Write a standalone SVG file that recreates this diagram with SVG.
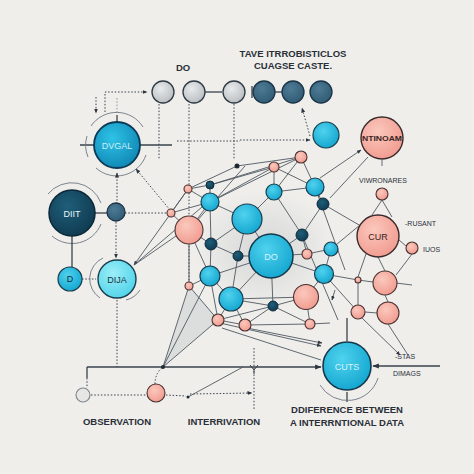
<svg xmlns="http://www.w3.org/2000/svg" width="474" height="474" viewBox="0 0 474 474">
<defs>
<radialGradient id="gCyan" cx="40%" cy="35%" r="70%"><stop offset="0" stop-color="#4fd2ee"/><stop offset="1" stop-color="#12a5cf"/></radialGradient>
<radialGradient id="gCyanBig" cx="40%" cy="35%" r="70%"><stop offset="0" stop-color="#2ec3e6"/><stop offset="1" stop-color="#0f86b4"/></radialGradient>
<radialGradient id="gLight" cx="40%" cy="35%" r="70%"><stop offset="0" stop-color="#9beef7"/><stop offset="1" stop-color="#4fd3ea"/></radialGradient>
<radialGradient id="gPink" cx="40%" cy="35%" r="70%"><stop offset="0" stop-color="#fbc8bd"/><stop offset="1" stop-color="#f19a8e"/></radialGradient>
<radialGradient id="gNavy" cx="40%" cy="35%" r="70%"><stop offset="0" stop-color="#1f5e79"/><stop offset="1" stop-color="#0f3a50"/></radialGradient>
<radialGradient id="gGray" cx="40%" cy="35%" r="70%"><stop offset="0" stop-color="#e8eaeb"/><stop offset="1" stop-color="#b8bdc1"/></radialGradient>
<radialGradient id="gSlate" cx="40%" cy="35%" r="70%"><stop offset="0" stop-color="#4d7a94"/><stop offset="1" stop-color="#2f5a74"/></radialGradient>
<radialGradient id="gShade" cx="50%" cy="50%" r="50%"><stop offset="0" stop-color="#c9ccce" stop-opacity="0.7"/><stop offset="1" stop-color="#c9ccce" stop-opacity="0"/></radialGradient>
<marker id="ah" viewBox="0 0 10 10" refX="9" refY="5" markerWidth="5" markerHeight="5" orient="auto-start-reverse"><path d="M0,1 L10,5 L0,9 z" fill="#2d3540"/></marker>
<style>
.e{stroke:#4f5861;stroke-width:0.9;fill:none}
.d{stroke:#3a424c;stroke-width:1;fill:none;stroke-dasharray:1.5 1.8}
.s{stroke:#3a424c;stroke-width:1.3;fill:none}
.ring{stroke:#6d7780;stroke-width:0.9;fill:none}
.cy{fill:url(#gCyan);stroke:#1b3c4c;stroke-width:1.2}
.pk{fill:url(#gPink);stroke:#4a3232;stroke-width:1.1}
.nv{fill:url(#gNavy);stroke:#0f2c3a;stroke-width:1}
.gr{fill:url(#gGray);stroke:#2f3a44;stroke-width:1.3}
.sl{fill:url(#gSlate);stroke:#1c3446;stroke-width:1.3}
text{font-family:"Liberation Sans",Arial,sans-serif}
.lab{font-size:9.5px;font-weight:bold;fill:#2a2f38;text-anchor:middle}
.sm{font-size:7px;fill:#2a2f38}
.nl{font-size:9px;text-anchor:middle}
</style>
</defs>
<rect width="474" height="474" fill="#efeeeb"/>

<!-- soft shading -->
<ellipse cx="265" cy="250" rx="70" ry="60" fill="url(#gShade)"/>
<polygon points="163,367 189,286 218,320" fill="#d7d9da" opacity="0.8"/>

<g id="connectors">
<!-- top dotted -->
<path class="d" d="M105,112 V92 H147" marker-end="url(#ah)"/>
<path class="d" d="M96,97 V113" marker-end="url(#ah)"/>
<line class="d" x1="117" y1="98" x2="117" y2="113" stroke-opacity="0.5"/>
<line class="d" x1="159" y1="104" x2="159" y2="160"/>
<line class="d" x1="189" y1="104" x2="189" y2="185"/>
<line class="d" x1="189" y1="193" x2="189" y2="282"/>
<line class="d" x1="234" y1="104" x2="234" y2="160"/>
<line class="s" x1="205" y1="92" x2="222" y2="92"/>
<line class="s" x1="275" y1="92" x2="282" y2="92"/>
<line class="s" x1="252" y1="86" x2="252" y2="98" stroke-width="0.8"/>
<line class="d" x1="177" y1="141" x2="240" y2="141"/>
<line class="d" x1="240" y1="140" x2="310" y2="140" marker-end="url(#ah)"/>
<line class="d" x1="310" y1="136" x2="302" y2="108" marker-end="url(#ah)"/>
<!-- DVGAL crosshair -->
<line class="s" x1="80" y1="145" x2="172" y2="145" stroke="#55606a" stroke-width="1"/>
<line class="s" x1="117" y1="115" x2="117" y2="122" stroke-width="1"/>
<path class="ring" d="M91,126 A31,31 0 0 1 143,127 M146,155 A31,31 0 0 1 96,168 M88,157 A31,31 0 0 1 87,136"/>
<line class="d" x1="117" y1="204" x2="117" y2="173" marker-end="url(#ah)"/>
<line class="d" x1="170" y1="210" x2="136" y2="169" marker-end="url(#ah)"/>
<!-- DIIT ring and links -->
<path class="ring" d="M48,194 A31,31 0 0 1 101,203 M101,224 A31,31 0 0 1 52,236"/>
<line class="s" x1="95" y1="213" x2="107" y2="213" stroke-width="1"/>
<line class="d" x1="125" y1="213" x2="167" y2="213"/>
<line class="s" x1="72" y1="236" x2="72" y2="267" stroke-width="1"/>
<line class="d" x1="82" y1="279" x2="96" y2="279"/>
<line class="d" x1="116" y1="222" x2="116" y2="258" marker-end="url(#ah)"/>
<path class="ring" d="M103,258 A23,23 0 0 0 100,298 M126,300 A23,23 0 0 0 140,290"/>
<line class="d" x1="117" y1="300" x2="117" y2="367"/>
<!-- to DIJA -->
<line class="e" x1="186" y1="192" x2="134" y2="265" marker-end="url(#ah)"/>
<line class="e" x1="176" y1="236" x2="134" y2="265"/>
<line class="e" x1="202" y1="207" x2="134" y2="265"/>
<!-- network edges -->
<g class="e">
<line x1="171" y1="213" x2="188" y2="189"/><line x1="171" y1="213" x2="189" y2="230"/><line x1="171" y1="213" x2="210" y2="202"/>
<line x1="188" y1="189" x2="210" y2="185"/><line x1="188" y1="189" x2="210" y2="202"/><line x1="188" y1="189" x2="237" y2="166"/>
<line x1="237" y1="166" x2="301" y2="157"/><line x1="210" y1="185" x2="274" y2="167"/><line x1="210" y1="185" x2="301" y2="157"/>
<line x1="210" y1="202" x2="274" y2="167"/><line x1="210" y1="202" x2="301" y2="157"/><line x1="210" y1="202" x2="247" y2="219"/>
<line x1="210" y1="202" x2="189" y2="230"/><line x1="210" y1="202" x2="211" y2="244"/><line x1="210" y1="185" x2="210" y2="202"/>
<line x1="274" y1="167" x2="274" y2="192"/><line x1="301" y1="157" x2="274" y2="192"/><line x1="301" y1="157" x2="315" y2="187"/>
<line x1="274" y1="167" x2="315" y2="187"/><line x1="274" y1="192" x2="247" y2="219"/><line x1="274" y1="192" x2="302" y2="235"/>
<line x1="274" y1="192" x2="315" y2="187"/><line x1="315" y1="187" x2="323" y2="204"/><line x1="247" y1="219" x2="271" y2="256"/>
<line x1="247" y1="219" x2="211" y2="244"/><line x1="247" y1="219" x2="238" y2="256"/><line x1="189" y1="230" x2="211" y2="244"/>
<line x1="189" y1="230" x2="210" y2="276"/><line x1="189" y1="230" x2="189" y2="286"/><line x1="211" y1="244" x2="210" y2="276"/>
<line x1="211" y1="244" x2="238" y2="256"/><line x1="238" y1="256" x2="271" y2="256"/><line x1="238" y1="256" x2="231" y2="299"/>
<line x1="271" y1="256" x2="307" y2="254"/><line x1="271" y1="256" x2="302" y2="235"/><line x1="271" y1="256" x2="231" y2="299"/>
<line x1="271" y1="256" x2="273" y2="306"/><line x1="271" y1="256" x2="324" y2="274"/><line x1="271" y1="256" x2="210" y2="276"/>
<line x1="323" y1="204" x2="302" y2="235"/><line x1="323" y1="204" x2="378" y2="236"/><line x1="302" y1="235" x2="307" y2="254"/>
<line x1="307" y1="254" x2="331" y2="249"/><line x1="331" y1="249" x2="324" y2="274"/><line x1="331" y1="249" x2="360" y2="225"/>
<line x1="324" y1="274" x2="306" y2="297"/><line x1="324" y1="274" x2="358" y2="280"/><line x1="324" y1="274" x2="358" y2="312"/>
<line x1="231" y1="299" x2="210" y2="276"/><line x1="231" y1="299" x2="218" y2="320"/><line x1="231" y1="299" x2="245" y2="325"/>
<line x1="231" y1="299" x2="273" y2="306"/><line x1="231" y1="299" x2="306" y2="297"/><line x1="210" y1="276" x2="189" y2="286"/>
<line x1="210" y1="276" x2="218" y2="320"/><line x1="189" y1="286" x2="218" y2="320"/><line x1="273" y1="306" x2="306" y2="297"/>
<line x1="273" y1="306" x2="245" y2="325"/><line x1="273" y1="306" x2="310" y2="324"/><line x1="306" y1="297" x2="310" y2="324"/>
<line x1="245" y1="325" x2="310" y2="324"/><line x1="218" y1="320" x2="245" y2="325"/><line x1="218" y1="320" x2="273" y2="306"/>
<line x1="310" y1="324" x2="330" y2="323"/>
<line x1="382" y1="200" x2="372" y2="215"/><line x1="382" y1="200" x2="392" y2="217"/>
<line x1="399" y1="240" x2="406" y2="246"/><line x1="378" y1="257" x2="385" y2="271"/><line x1="366" y1="254" x2="358" y2="277"/>
<line x1="358" y1="280" x2="373" y2="282"/><line x1="385" y1="295" x2="388" y2="302"/><line x1="358" y1="280" x2="358" y2="305"/>
<line x1="365" y1="312" x2="377" y2="313"/><line x1="396" y1="283" x2="412" y2="285"/><line x1="412" y1="254" x2="396" y2="275"/>
<line x1="315" y1="187" x2="345" y2="270"/><line x1="302" y1="235" x2="338" y2="320"/>
<line x1="189" y1="230" x2="245" y2="166"/>
</g>
<line class="e" x1="320" y1="178" x2="361" y2="150" marker-end="url(#ah)"/>
<line class="e" x1="330" y1="198" x2="368" y2="157"/>
<line class="e" x1="382" y1="160" x2="382" y2="166"/>
<line class="e" x1="335" y1="290" x2="332" y2="300" marker-end="url(#ah)"/>
<line class="e" x1="362" y1="318" x2="400" y2="355" marker-end="url(#ah)"/>
<line class="e" x1="388" y1="324" x2="408" y2="355" />
<!-- triangle -->
<line class="e" x1="163" y1="367" x2="189" y2="286"/><line class="e" x1="163" y1="367" x2="218" y2="320"/><line class="e" x1="163" y1="367" x2="210" y2="276"/>
<!-- to CUTS -->
<line class="e" x1="220" y1="323" x2="321" y2="346" marker-end="url(#ah)"/>
<line class="e" x1="247" y1="328" x2="322" y2="343" marker-end="url(#ah)"/>
<line class="e" x1="222" y1="328" x2="321" y2="360"/>
<line class="s" x1="87" y1="367" x2="321" y2="367" marker-end="url(#ah)"/>
<line class="s" x1="440" y1="366" x2="373" y2="366" marker-end="url(#ah)"/>
<line class="s" x1="347" y1="318" x2="347" y2="341" stroke-width="1"/>
<line class="s" x1="347" y1="392" x2="347" y2="402" stroke-width="1"/>
<path class="ring" d="M320,385 A32,32 0 0 0 378,378"/>
<!-- bottom left -->
<line class="s" x1="87" y1="367" x2="87" y2="378" stroke-width="1"/>
<line class="d" x1="87" y1="378" x2="87" y2="388"/>
<line class="d" x1="91" y1="395" x2="147" y2="395"/>
<path class="d" d="M155,384 Q155,373 163,367"/>
<line class="d" x1="166" y1="395" x2="186" y2="396"/>
<line class="d" x1="190" y1="394" x2="252" y2="393" marker-end="url(#ah)"/>
<line class="e" x1="188" y1="397" x2="243" y2="367"/>
<line class="d" x1="254" y1="348" x2="254" y2="410" stroke-dasharray="1.2 2.2"/>
<path d="M250,365 L254,370 L258,365 M254,370 V374" stroke="#2d3540" stroke-width="0.9" fill="none"/>
<circle cx="163" cy="367" r="2" fill="#1d2a33"/>
<circle cx="188" cy="397" r="1.5" fill="#1d2a33"/>
</g>

<!-- top row -->
<g id="g1"><circle class="gr" cx="163" cy="92" r="11"/></g>
<g id="g2"><circle class="gr" cx="194" cy="92" r="11"/></g>
<g id="g3"><circle class="gr" cx="234" cy="92" r="11"/></g>
<g id="b1"><circle class="sl" cx="264" cy="92" r="11"/></g>
<g id="b2"><circle class="sl" cx="293" cy="92" r="11"/></g>
<g id="b3"><circle class="sl" cx="321" cy="92" r="11"/></g>

<g id="dvgal"><circle cx="117" cy="145" r="23" fill="url(#gCyanBig)" stroke="#0d3a55" stroke-width="1.8"/><text class="nl" x="117" y="148.5" fill="#c8eef9">DVGAL</text></g>
<g id="diit"><circle cx="72" cy="213" r="23" fill="url(#gNavy)" stroke="#0b2838" stroke-width="1.5"/><text class="nl" x="72" y="216.5" fill="#e8f4f8">DIIT</text></g>
<g id="dsmall"><circle class="sl" cx="116" cy="212" r="9"/></g>
<g id="d"><circle class="cy" cx="70" cy="279" r="12"/><text class="nl" x="70" y="282" fill="#0f2a38" font-size="8">D</text></g>
<g id="dija"><circle cx="117" cy="279" r="19" fill="url(#gLight)" stroke="#1b3c4c" stroke-width="1.4"/><text class="nl" x="117" y="282.5" fill="#1c3442">DIJA</text></g>
<g id="cyanTop"><circle class="cy" cx="326" cy="135" r="13"/></g>
<g id="ntinoam"><circle cx="382" cy="138" r="21" fill="url(#gPink)" stroke="#3b2a2a" stroke-width="1.4"/><text x="382" y="141" text-anchor="middle" font-size="8" font-weight="bold" fill="#3a2424" textLength="40" lengthAdjust="spacingAndGlyphs">NTINOAM</text></g>

<!-- network nodes -->
<g id="n1"><circle class="pk" cx="301" cy="157" r="6"/></g>
<g id="n2"><circle class="pk" cx="274" cy="167" r="5"/></g>
<g id="n3"><circle cx="237" cy="166" r="2.5" fill="#1d2a33"/></g>
<g id="n4"><circle class="nv" cx="210" cy="185" r="4"/></g>
<g id="n5"><circle class="pk" cx="188" cy="189" r="4"/></g>
<g id="n6"><circle class="cy" cx="274" cy="192" r="8"/></g>
<g id="n7"><circle class="cy" cx="315" cy="187" r="9"/></g>
<g id="n8"><circle class="cy" cx="210" cy="202" r="9"/></g>
<g id="n9"><circle class="pk" cx="171" cy="213" r="4"/></g>
<g id="n10"><circle class="cy" cx="247" cy="219" r="15"/></g>
<g id="n11"><circle class="pk" cx="189" cy="230" r="14"/></g>
<g id="n12"><circle class="nv" cx="323" cy="204" r="6"/></g>
<g id="n13"><circle class="nv" cx="211" cy="244" r="6"/></g>
<g id="n14"><circle class="nv" cx="302" cy="235" r="6"/></g>
<g id="n15"><circle class="nv" cx="238" cy="256" r="5"/></g>
<g id="do"><circle cx="271" cy="256" r="22" fill="url(#gCyan)" stroke="#16384a" stroke-width="1.5"/><text class="nl" x="271" y="259.5" fill="#d8f4fb">DO</text></g>
<g id="n17"><circle class="pk" cx="307" cy="254" r="5"/></g>
<g id="n18"><circle class="cy" cx="331" cy="249" r="7"/></g>
<g id="n19"><circle class="cy" cx="210" cy="276" r="10"/></g>
<g id="n20"><circle class="cy" cx="324" cy="274" r="9.5"/></g>
<g id="n21"><circle class="pk" cx="189" cy="286" r="4"/></g>
<g id="n22"><circle class="cy" cx="231" cy="299" r="12"/></g>
<g id="n23"><circle class="pk" cx="306" cy="297" r="12.5"/></g>
<g id="n24"><circle class="nv" cx="273" cy="306" r="5"/></g>
<g id="n25"><circle class="pk" cx="218" cy="320" r="6"/></g>
<g id="n26"><circle class="pk" cx="245" cy="325" r="6"/></g>
<g id="n27"><circle class="pk" cx="310" cy="324" r="5"/></g>
<g id="n28"><circle class="pk" cx="382" cy="194" r="6"/></g>
<g id="cur"><circle cx="378" cy="236" r="21" fill="url(#gPink)" stroke="#3b2a2a" stroke-width="1.4"/><text class="nl" x="378" y="239.5" fill="#3a2424">CUR</text></g>
<g id="n30"><circle class="pk" cx="412" cy="248" r="6"/></g>
<g id="n31"><circle class="pk" cx="358" cy="280" r="3"/></g>
<g id="n32"><circle class="pk" cx="385" cy="283" r="12"/></g>
<g id="n33"><circle class="pk" cx="358" cy="312" r="7"/></g>
<g id="n34"><circle class="pk" cx="388" cy="313" r="11"/></g>

<g id="cuts"><circle cx="347" cy="366" r="24" fill="url(#gCyan)" stroke="#16384a" stroke-width="1.6"/><text class="nl" x="347" y="370" fill="#d8f4fb" font-size="10">CUTS</text></g>
<g id="obs"><circle cx="83" cy="395" r="7" fill="#e6e6e4" stroke="#7d858c" stroke-width="1.1"/></g>
<g id="pinkBottom"><circle class="pk" cx="156" cy="393" r="9"/></g>

<!-- texts -->
<text class="lab" x="183" y="71" font-size="8">DO</text>
<text class="lab" x="293" y="57" font-size="8.5">TAVE ITRROBISTICLOS</text>
<text class="lab" x="293" y="69" font-size="8.5">CUAGSE CASTE.</text>
<text class="sm" x="383" y="183" text-anchor="middle" font-size="6.5">VIWRONARES</text>
<text class="sm" x="405" y="226" font-size="9">-RUSANT</text>
<text class="sm" x="423" y="252" font-size="7">IUOS</text>
<text class="sm" x="395" y="359" font-size="7">-STAS</text>
<text class="sm" x="393" y="376" font-size="7">DIMAGS</text>
<text class="lab" x="117" y="425">OBSERVATION</text>
<text class="lab" x="224" y="425">INTERRIVATION</text>
<text class="lab" x="347" y="413" font-size="10.5">DDIFERENCE BETWEEN</text>
<text class="lab" x="347" y="426" font-size="10.5">A INTERRNTIONAL DATA</text>
</svg>
